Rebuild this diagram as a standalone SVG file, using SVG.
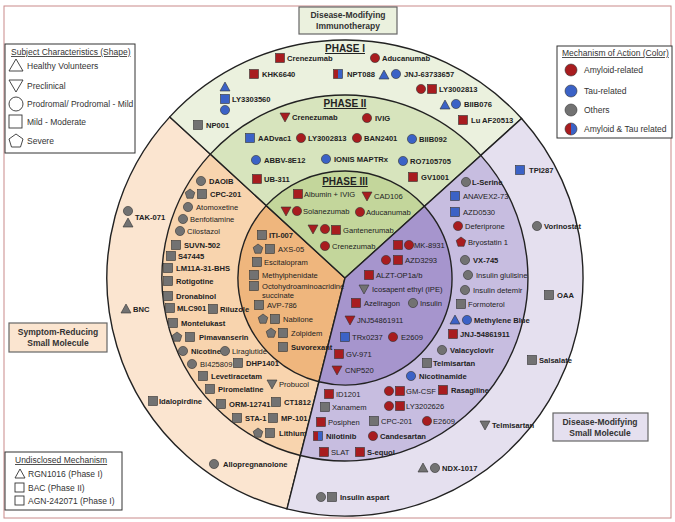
<svg xmlns="http://www.w3.org/2000/svg" xmlns:xlink="http://www.w3.org/1999/xlink" width="675" height="522" viewBox="0 0 675 522">
<style>
text{font-family:"Liberation Sans",Arial,sans-serif;font-size:7.6px;fill:#222}
.b{font-weight:bold}
.n{fill:#333}
.r{fill:#a81c1f}
.u{fill:#3b62c6}
.g{fill:#727272}
.m{stroke:#333;stroke-width:0.6}
.ph{font-size:10px;font-weight:bold;text-decoration:underline;text-anchor:middle}
.box{stroke:#666;stroke-width:1.2}
.lg{font-size:8.5px;fill:#333}
.hd{font-size:8.5px;fill:#333;text-decoration:underline}
.lbl{font-size:8.5px;font-weight:bold;text-anchor:middle;fill:#333}
.ring{stroke:#222;stroke-width:1.4}
.hol{fill:#fff;stroke:#333;stroke-width:0.9}
</style>
<defs>
<rect id="s" x="-4.5" y="-4.5" width="9" height="9" class="m"/>
<circle id="c" r="4.6" class="m"/>
<path id="t" d="M0,-5 L5,4 L-5,4 Z" class="m"/>
<path id="v" d="M-5,-4 L5,-4 L0,5 Z" class="m"/>
<path id="p" d="M0,-5 L4.8,-1.5 L3,4.3 L-3,4.3 L-4.8,-1.5 Z" class="m"/>
</defs>
<rect x="0" y="0" width="675" height="522" fill="#fff"/>
<rect x="4" y="6" width="667" height="512" fill="none" stroke="#c98a8a" stroke-width="1"/>
<g id="rings">
<path class="ring" fill="#fbe5d0" d="M345,278 L287,508.9 A238,238 0 0 1 169.8,116.9 Z"/>
<path class="ring" fill="#ebf1de" d="M345,278 L169.8,116.9 A238,238 0 0 1 521.6,118.5 Z"/>
<path class="ring" fill="#e5e0ef" d="M345,278 L521.6,118.5 A238,238 0 0 1 287,508.9 Z"/>
<path class="ring" fill="#f8d4ae" d="M345,278 L300.4,455.5 A183,183 0 0 1 210.3,154.1 Z"/>
<path class="ring" fill="#d7e4bd" d="M345,278 L210.3,154.1 A183,183 0 0 1 480.8,155.4 Z"/>
<path class="ring" fill="#c7bde0" d="M345,278 L480.8,155.4 A183,183 0 0 1 300.4,455.5 Z"/>
<path class="ring" fill="#efb67d" d="M345,278 L318.9,381.8 A107,107 0 0 1 266.2,205.6 Z"/>
<path class="ring" fill="#c3d69b" d="M345,278 L266.2,205.6 A107,107 0 0 1 424.4,206.3 Z"/>
<path class="ring" fill="#a695cd" d="M345,278 L424.4,206.3 A107,107 0 0 1 318.9,381.8 Z"/>
</g>
<g id="labels">
<g id="dmi"><rect class="box" x="299" y="7" width="98" height="27" fill="#ebf1de"/><text class="lbl" x="348" y="18">Disease-Modifying</text><text class="lbl" x="348" y="29">Immunotherapy</text></g>
<g id="srsm"><rect class="box" x="9" y="323" width="98" height="29" fill="#fbe5d0"/><text class="lbl" x="58" y="335">Symptom-Reducing</text><text class="lbl" x="58" y="346">Small Molecule</text></g>
<g id="dmsm"><rect class="box" x="553" y="413" width="95" height="28" fill="#e5e0ef"/><text class="lbl" x="600" y="425">Disease-Modifying</text><text class="lbl" x="600" y="436">Small Molecule</text></g>
<text class="ph" x="345" y="52">PHASE I</text>
<text class="ph" x="345" y="107">PHASE II</text>
<text class="ph" x="345" y="185">PHASE III</text>
</g>
<g id="legend-shape">
<rect x="5" y="44" width="130" height="109" fill="#fff" stroke="#333" stroke-width="1"/>
<text class="hd" x="11" y="55">Subject Characteristics (Shape)</text>
<path class="hol" d="M16,59 L23,71 L9,71 Z"/><text class="lg" x="27" y="69">Healthy Volunteers</text>
<path class="hol" d="M9,80 L23,80 L16,92 Z"/><text class="lg" x="27" y="89">Preclinical</text>
<circle class="hol" cx="16" cy="104" r="7"/><text class="lg" x="27" y="107">Prodromal/ Prodromal - Mild</text>
<rect class="hol" x="9" y="115" width="13" height="13"/><text class="lg" x="27" y="125">Mild - Moderate</text>
<path class="hol" d="M16,134 L23,139 L20.5,147 L11.5,147 L9,139 Z"/><text class="lg" x="27" y="144">Severe</text>
</g>
<g id="legend-color">
<rect x="557" y="46" width="115" height="92" fill="#fff" stroke="#333" stroke-width="1"/>
<text class="hd" x="562" y="56">Mechanism of Action (Color)</text>
<circle class="r m" cx="571" cy="70" r="6"/><text class="lg" x="584" y="73">Amyloid-related</text>
<circle class="u m" cx="571" cy="91" r="6"/><text class="lg" x="584" y="94">Tau-related</text>
<circle class="g m" cx="571" cy="110" r="6"/><text class="lg" x="584" y="113">Others</text>
<path class="r" d="M571,123 A6,6 0 0 0 571,135 Z"/><path class="u" d="M571,123 A6,6 0 0 1 571,135 Z"/><circle cx="571" cy="129" r="6" fill="none" stroke="#333" stroke-width="0.6"/><text class="lg" x="584" y="132">Amyloid &amp; Tau related</text>
</g>
<g id="legend-undisclosed">
<rect x="5" y="452" width="117" height="58" fill="#fff" stroke="#333" stroke-width="1"/>
<text class="hd" x="15" y="463">Undisclosed Mechanism</text>
<path class="hol" d="M20,469 L25,478 L15,478 Z"/><text class="lg" x="28" y="477">RGN1016 (Phase I)</text>
<rect class="hol" x="15" y="483" width="9" height="9"/><text class="lg" x="28" y="491">BAC (Phase II)</text>
<rect class="hol" x="15" y="496" width="9" height="9"/><text class="lg" x="28" y="504">AGN-242071 (Phase I)</text>
</g>
<g id="connectors"></g>
<!-- Phase I -->
<g id="p1-crenezumab"><use href="#s" x="280" y="58" class="r"/><text class="b" x="287" y="61">Crenezumab</text></g>
<g id="p1-aducanumab"><use href="#c" x="375" y="58" class="r"/><text class="b" x="382" y="61">Aducanumab</text></g>
<g id="p1-khk6640"><use href="#s" x="254" y="74" class="r"/><text class="b" x="262" y="77">KHK6640</text></g>
<g id="p1-npt088"><rect x="333.5" y="69.5" width="4.5" height="9" class="r"/><rect x="338" y="69.5" width="4.5" height="9" class="u"/><rect x="333.5" y="69.5" width="9" height="9" fill="none" stroke="#333" stroke-width="0.6"/><text class="b" x="347" y="77">NPT088</text></g>
<g id="p1-jnj63733657"><use href="#t" x="384" y="75" class="u"/><use href="#c" x="396" y="74" class="u"/><text class="b" x="404" y="77">JNJ-63733657</text></g>
<g id="p1-ly3002813"><use href="#c" x="421" y="89" class="r"/><use href="#s" x="432" y="89" class="r"/><text class="b" x="439" y="92">LY3002813</text></g>
<g id="p1-biib076"><use href="#t" x="445" y="105" class="u"/><use href="#c" x="456" y="104" class="u"/><text class="b" x="464" y="107">BIIB076</text></g>
<g id="p1-luaf20513"><use href="#s" x="463" y="120" class="r"/><text class="b" x="471" y="123">Lu AF20513</text></g>
<g id="p1-ly3303560"><use href="#t" x="225" y="87" class="u"/><use href="#s" x="225" y="99" class="u"/><use href="#c" x="225" y="110" class="u"/><text class="b" x="232" y="102">LY3303560</text></g>
<g id="p1-np001"><use href="#s" x="198" y="125" class="g"/><text class="b" x="206" y="128">NP001</text></g>
<g id="p1-tak071"><use href="#c" x="128" y="211" class="g"/><use href="#t" x="128" y="223" class="g"/><text class="b" x="135" y="220">TAK-071</text></g>
<g id="p1-bnc"><use href="#t" x="126" y="309" class="g"/><text class="b" x="133" y="312">BNC</text></g>
<g id="p1-idalopirdine"><use href="#s" x="153" y="401" class="g"/><text class="b" x="159" y="404">Idalopirdine</text></g>
<g id="p1-allopregnanolone"><use href="#c" x="214" y="464" class="g"/><text class="b" x="223" y="467">Allopregnanolone</text></g>
<g id="p1-insulinaspart"><use href="#c" x="321" y="497" class="g"/><use href="#s" x="332" y="497" class="g"/><text class="b" x="340" y="500">Insulin aspart</text></g>
<g id="p1-ndx1017"><use href="#t" x="423" y="468" class="g"/><use href="#c" x="435" y="468" class="g"/><text class="b" x="442" y="471">NDX-1017</text></g>
<g id="p1-telmisartan"><use href="#v" x="485" y="425" class="g"/><text class="b" x="492" y="428">Telmisartan</text></g>
<g id="p1-salsalate"><use href="#s" x="532" y="360" class="g"/><text class="b" x="539" y="363">Salsalate</text></g>
<g id="p1-oaa"><use href="#s" x="549" y="295" class="g"/><text class="b" x="557" y="298">OAA</text></g>
<g id="p1-vorinostat"><use href="#c" x="537" y="226" class="g"/><text class="b" x="544" y="229">Vorinostat</text></g>
<g id="p1-tpi287"><use href="#s" x="520" y="170" class="u"/><text class="b" x="529" y="173">TPI287</text></g>
<!-- Phase II green -->
<g id="p2-crenezumab"><use href="#v" x="285" y="117" class="r"/><text class="b" x="292" y="120">Crenezumab</text></g>
<g id="p2-ivig"><use href="#c" x="367" y="118" class="r"/><text class="b" x="375" y="121">IVIG</text></g>
<g id="p2-aadvac1"><use href="#s" x="250" y="138" class="u"/><text class="b" x="258" y="141">AADvac1</text></g>
<g id="p2-ly3002813"><use href="#c" x="301" y="138" class="r"/><text class="b" x="308" y="141">LY3002813</text></g>
<g id="p2-ban2401"><use href="#c" x="357" y="138" class="r"/><text class="b" x="364" y="141">BAN2401</text></g>
<g id="p2-biib092"><use href="#c" x="412" y="139" class="u"/><text class="b" x="419" y="142">BIIB092</text></g>
<g id="p2-abbv8e12"><use href="#c" x="256" y="160" class="u"/><text class="b" x="264" y="163">ABBV-8E12</text></g>
<g id="p2-ionis"><use href="#c" x="326" y="159" class="u"/><text class="b" x="334" y="162">IONIS MAPTRx</text></g>
<g id="p2-ro7105705"><use href="#c" x="403" y="161" class="u"/><text class="b" x="410" y="164">RO7105705</text></g>
<g id="p2-ub311"><use href="#s" x="257" y="179" class="r"/><text class="b" x="264" y="182">UB-311</text></g>
<g id="p2-gv1001"><use href="#s" x="413" y="177" class="r"/><text class="b" x="421" y="180">GV1001</text></g>
<!-- Phase II orange -->
<g id="p2-daoib"><use href="#c" x="201" y="181" class="g"/><text class="b" x="209" y="184">DAOIB</text></g>
<g id="p2-cpc201"><use href="#p" x="190" y="194" class="g"/><use href="#s" x="202" y="194" class="g"/><text class="b" x="210" y="197">CPC-201</text></g>
<g id="p2-atomoxetine"><use href="#c" x="188" y="207" class="g"/><text x="196" y="210">Atomoxetine</text></g>
<g id="p2-benfotiamine"><use href="#c" x="183" y="219" class="g"/><text x="190" y="222">Benfotiamine</text></g>
<g id="p2-cilostazol"><use href="#c" x="180" y="231" class="g"/><text x="187" y="234">Cilostazol</text></g>
<g id="p2-suvn502"><use href="#s" x="176" y="245" class="g"/><text class="b" x="184" y="248">SUVN-502</text></g>
<g id="p2-s47445"><use href="#s" x="171" y="256" class="g"/><text class="b" x="178" y="259">S47445</text></g>
<g id="p2-lm11a"><use href="#s" x="168" y="268" class="g"/><text class="b" x="176" y="271">LM11A-31-BHS</text></g>
<g id="p2-rotigotine"><use href="#s" x="168" y="281" class="g"/><text class="b" x="176" y="284">Rotigotine</text></g>
<g id="p2-dronabinol"><use href="#s" x="168" y="296" class="g"/><text class="b" x="176" y="299">Dronabinol</text></g>
<g id="p2-mlc901"><use href="#s" x="170" y="308" class="g"/><text class="b" x="177" y="311">MLC901</text></g>
<g id="p2-riluzole"><use href="#s" x="213" y="309" class="g"/><text class="b" x="220" y="312">Riluzole</text></g>
<g id="p2-montelukast"><use href="#s" x="173" y="323" class="g"/><text class="b" x="181" y="326">Montelukast</text></g>
<g id="p2-pimavanserin"><use href="#p" x="177" y="337" class="g"/><use href="#s" x="190" y="337" class="g"/><text class="b" x="199" y="340">Pimavanserin</text></g>
<g id="p2-nicotine"><use href="#c" x="183" y="351" class="g"/><text class="b" x="191" y="354">Nicotine</text></g>
<g id="p2-liraglutide"><use href="#c" x="225" y="351" class="g"/><text x="232" y="354">Liraglutide</text></g>
<g id="p2-bi425809"><use href="#c" x="192" y="364" class="g"/><text x="200" y="367">BI425809</text></g>
<g id="p2-dhp1401"><use href="#s" x="238" y="363" class="g"/><text class="b" x="246" y="366">DHP1401</text></g>
<g id="p2-levetiracetam"><use href="#s" x="203" y="376" class="g"/><text class="b" x="211" y="379">Levetiracetam</text></g>
<g id="p2-piromelatine"><use href="#s" x="210" y="389" class="g"/><text class="b" x="218" y="392">Piromelatine</text></g>
<g id="p2-probucol"><use href="#v" x="272" y="384" class="g"/><text x="279" y="387">Probucol</text></g>
<g id="p2-orm12741"><use href="#s" x="221" y="404" class="g"/><text class="b" x="229" y="407">ORM-12741</text></g>
<g id="p2-ct1812"><use href="#s" x="276" y="402" class="g"/><text class="b" x="284" y="405">CT1812</text></g>
<g id="p2-sta1"><use href="#s" x="237" y="418" class="g"/><text class="b" x="245" y="421">STA-1</text></g>
<g id="p2-mp101"><use href="#s" x="273" y="418" class="g"/><text class="b" x="281" y="421">MP-101</text></g>
<g id="p2-lithium"><use href="#p" x="258" y="433" class="g"/><use href="#s" x="270" y="433" class="g"/><text class="b" x="279" y="436">Lithium</text></g>
<!-- Phase III orange -->
<g id="p3-iti007"><use href="#s" x="262" y="235" class="g"/><text class="b" x="269" y="238">ITI-007</text></g>
<g id="p3-axs05"><use href="#p" x="258" y="249" class="g"/><use href="#s" x="270" y="249" class="g"/><text x="278" y="252">AXS-05</text></g>
<g id="p3-escitalopram"><use href="#s" x="257" y="262" class="g"/><text x="264" y="265">Escitalopram</text></g>
<g id="p3-methylphenidate"><use href="#s" x="254" y="275" class="g"/><text x="262" y="278">Methylphenidate</text></g>
<g id="p3-octo"><use href="#s" x="254" y="286" class="g"/><text x="262" y="289">Octohydroaminoacridine</text><text x="262" y="298">succinate</text></g>
<g id="p3-avp786"><use href="#s" x="259" y="305" class="g"/><text x="267" y="308">AVP-786</text></g>
<g id="p3-nabilone"><use href="#p" x="263" y="319" class="g"/><use href="#s" x="275" y="319" class="g"/><text x="283" y="322">Nabilone</text></g>
<g id="p3-zolpidem"><use href="#p" x="271" y="333" class="g"/><use href="#s" x="283" y="333" class="g"/><text x="291" y="336">Zolpidem</text></g>
<g id="p3-suvorexant"><use href="#s" x="283" y="347" class="g"/><text class="b" x="291" y="350">Suvorexant</text></g>
<!-- Phase III green -->
<g id="p3-albumin"><use href="#s" x="298" y="194" class="r"/><text x="304" y="197">Albumin + IVIG</text></g>
<g id="p3-cad106"><use href="#v" x="367" y="196" class="r"/><text x="374" y="199">CAD106</text></g>
<g id="p3-solanezumab"><use href="#v" x="286" y="211" class="r"/><use href="#c" x="297" y="211" class="r"/><text x="303" y="214">Solanezumab</text></g>
<g id="p3-aducanumab"><use href="#c" x="360" y="212" class="r"/><text x="366" y="215">Aducanumab</text></g>
<g id="p3-gantenerumab"><use href="#v" x="313" y="229" class="r"/><use href="#c" x="325" y="229" class="r"/><use href="#s" x="336" y="230" class="r"/><text x="343" y="233">Gantenerumab</text></g>
<g id="p3-crenezumab"><use href="#c" x="325" y="246" class="r"/><text x="332" y="249">Crenezumab</text></g>
<!-- Phase III purple -->
<g id="p3-mk8931"><use href="#s" x="398" y="245" class="r"/><use href="#c" x="409" y="245" class="r"/><text x="414" y="248">MK-8931</text></g>
<g id="p3-azd3293"><use href="#c" x="386" y="260" class="r"/><use href="#s" x="398" y="260" class="r"/><text x="405" y="263">AZD3293</text></g>
<g id="p3-alzt"><use href="#s" x="369" y="275" class="r"/><text x="376" y="278">ALZT-OP1a/b</text></g>
<g id="p3-ipe"><use href="#v" x="364" y="289" class="g"/><text x="372" y="292">Icosapent ethyl (IPE)</text></g>
<g id="p3-azeliragon"><use href="#s" x="356" y="303" class="r"/><text x="364" y="306">Azeliragon</text></g>
<g id="p3-insulin"><use href="#c" x="413" y="303" class="g"/><text x="420" y="306">Insulin</text></g>
<g id="p3-jnj54861911"><use href="#v" x="350" y="320" class="r"/><text x="357" y="323">JNJ54861911</text></g>
<g id="p3-trx0237"><use href="#s" x="345" y="337" class="u"/><text x="352" y="340">TRx0237</text></g>
<g id="p3-e2609"><use href="#c" x="393" y="337" class="r"/><text x="401" y="340">E2609</text></g>
<g id="p3-gv971"><use href="#s" x="339" y="354" class="r"/><text x="346" y="357">GV-971</text></g>
<g id="p3-cnp520"><use href="#v" x="337" y="370" class="r"/><text x="345" y="373">CNP520</text></g>
<!-- Phase II purple -->
<g id="p2-lserine"><use href="#c" x="466" y="182" class="g"/><text class="b" x="472" y="185">L-Serine</text></g>
<g id="p2-anavex"><use href="#s" x="455" y="196" class="u"/><text x="463" y="199">ANAVEX2-73</text></g>
<g id="p2-azd0530"><use href="#s" x="455" y="212" class="u"/><text x="463" y="215">AZD0530</text></g>
<g id="p2-deferiprone"><use href="#c" x="458" y="226" class="r"/><text x="465" y="229">Deferiprone</text></g>
<g id="p2-bryostatin"><use href="#p" x="461" y="242" class="r"/><text x="468" y="245">Bryostatin 1</text></g>
<g id="p2-vx745"><use href="#c" x="465" y="260" class="g"/><text class="b" x="473" y="263">VX-745</text></g>
<g id="p2-glulisine"><use href="#c" x="468" y="275" class="g"/><text x="476" y="278">Insulin glulisine</text></g>
<g id="p2-detemir"><use href="#c" x="465" y="290" class="g"/><text x="473" y="293">Insulin detemir</text></g>
<g id="p2-formoterol"><use href="#s" x="461" y="304" class="g"/><text x="468" y="307">Formoterol</text></g>
<g id="p2-methyleneblue"><use href="#t" x="455" y="320" class="u"/><use href="#c" x="467" y="320" class="u"/><text class="b" x="474" y="323">Methylene Blue</text></g>
<g id="p2-jnj54861911"><use href="#s" x="453" y="334" class="r"/><text class="b" x="460" y="337">JNJ-54861911</text></g>
<g id="p2-valacyclovir"><use href="#c" x="442" y="350" class="g"/><text class="b" x="450" y="353">Valacyclovir</text></g>
<g id="p2-telmisartan"><use href="#s" x="427" y="363" class="g"/><text class="b" x="433" y="366">Telmisartan</text></g>
<g id="p2-nicotinamide"><use href="#c" x="411" y="376" class="u"/><text class="b" x="419" y="379">Nicotinamide</text></g>
<g id="p2-id1201"><use href="#s" x="329" y="394" class="r"/><text x="336" y="397">ID1201</text></g>
<g id="p2-gmcsf"><use href="#c" x="389" y="391" class="r"/><use href="#s" x="400" y="391" class="r"/><text x="406" y="394">GM-CSF</text></g>
<g id="p2-rasagiline"><use href="#s" x="443" y="390" class="r"/><text class="b" x="451" y="393">Rasagiline</text></g>
<g id="p2-xanamem"><use href="#s" x="325" y="407" class="g"/><text x="332" y="410">Xanamem</text></g>
<g id="p2-ly3202626"><use href="#c" x="389" y="406" class="r"/><use href="#s" x="400" y="406" class="r"/><text x="406" y="409">LY3202626</text></g>
<g id="p2-posiphen"><use href="#s" x="321" y="422" class="r"/><text x="328" y="425">Posiphen</text></g>
<g id="p2-cpc201b"><use href="#s" x="374" y="421" class="g"/><text x="381" y="424">CPC-201</text></g>
<g id="p2-e2609"><use href="#c" x="427" y="421" class="r"/><text x="433" y="424">E2609</text></g>
<g id="p2-nilotinib"><rect x="313.5" y="431.5" width="4.5" height="9" class="r"/><rect x="318" y="431.5" width="4.5" height="9" class="u"/><rect x="313.5" y="431.5" width="9" height="9" fill="none" stroke="#333" stroke-width="0.6"/><text class="b" x="326" y="439">Nilotinib</text></g>
<g id="p2-candesartan"><use href="#c" x="373" y="436" class="r"/><text class="b" x="380" y="439">Candesartan</text></g>
<g id="p2-slat"><use href="#s" x="324" y="452" class="r"/><text x="331" y="455">SLAT</text></g>
<g id="p2-sequol"><use href="#s" x="360" y="452" class="r"/><text class="b" x="367" y="455">S-equol</text></g>
</svg>
